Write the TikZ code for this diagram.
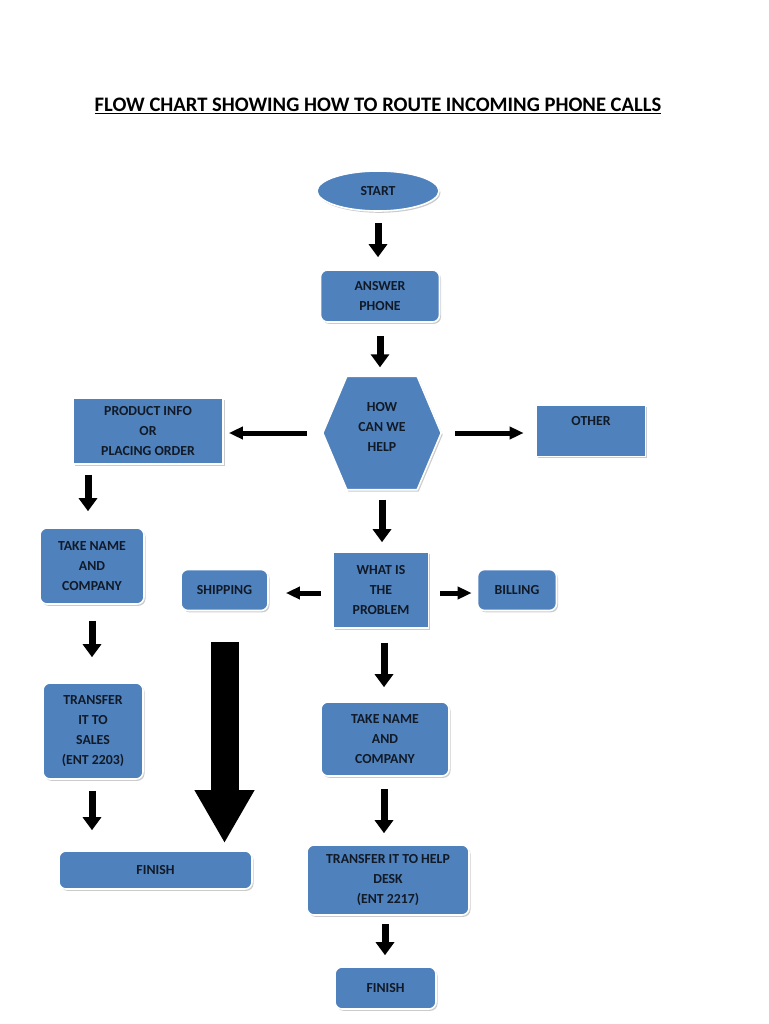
\documentclass[tikz,border=0pt]{standalone}
\usepackage{fontspec}
\setmainfont{Carlito}
\usetikzlibrary{arrows.meta,shadows,backgrounds,shapes.geometric}
\definecolor{boxblue}{HTML}{4F81BD}
\definecolor{txt}{HTML}{111A26}
\begin{document}
\begin{tikzpicture}[x=1pt,y=-1pt,
  shad/.style={drop shadow={shadow xshift=1.5pt,shadow yshift=-1.8pt,fill=black!45,opacity=0.45}},
  box/.style={fill=boxblue, draw=white, line width=1.6pt, shad,
    font=\fontsize{13.8pt}{20pt}\selectfont\bfseries, align=center, inner sep=0pt, text=txt},
  rbox/.style={box, rounded corners=7pt},
  lbl/.style={font=\fontsize{13.8pt}{20pt}\selectfont\bfseries, align=center, inner sep=0pt, text=txt},
  sarr/.style={line width=7pt, -{Triangle[length=13pt,width=18pt]}},
  harr/.style={line width=5pt, -{Triangle[length=14pt,width=12pt]}},
  bigarr/.style={line width=28pt, -{Triangle[length=53pt,width=56pt]}},
]
\useasboundingbox (0,0) rectangle (768,1024);

% title
\node[font=\fontsize{20.6pt}{22pt}\selectfont\bfseries, text=black] (title) at (378,106)
  {\underline{FLOW CHART SHOWING HOW TO ROUTE INCOMING PHONE CALLS}};

% nodes
\node[box, ellipse, minimum width=122pt, minimum height=40pt] (start) at (378,191) {START};
\node[rbox, minimum width=119pt, minimum height=52pt] (answer) at (380,296) {ANSWER\\PHONE};

\node[minimum width=118pt, minimum height=113pt, inner sep=0pt] (hex) at (382,433) {};
\begin{scope}[on background layer]
\path[fill=boxblue, draw=white, line width=1.6pt, shad]
  (hex.west) -- ([xshift=24pt]hex.north west) -- ([xshift=-24pt]hex.north east)
  -- (hex.east) -- ([xshift=-24pt]hex.south east) -- ([xshift=24pt]hex.south west) -- cycle;
\end{scope}
\node[lbl] (hextext) at (382,427) {HOW\\CAN WE\\HELP};

\node[box, minimum width=150pt, minimum height=66pt] (product) at (148,431) {PRODUCT INFO\\OR\\PLACING ORDER};
\node[box, minimum width=109pt, minimum height=51pt] (other) at (591,431) {OTHER\\\phantom{O}};

\node[rbox, minimum width=104pt, minimum height=76pt] (takeL) at (92,566) {TAKE NAME\\AND\\COMPANY};
\node[rbox, minimum width=100pt, minimum height=96pt] (transferL) at (93,731) {TRANSFER\\IT TO\\SALES\\(ENT 2203)};
\node[rbox, minimum width=193pt, minimum height=38pt] (finishL) at (155.5,870) {FINISH};

\node[box, minimum width=95pt, minimum height=76pt] (what) at (381,590) {WHAT IS\\THE\\PROBLEM};
\node[rbox, minimum width=87pt, minimum height=41pt] (shipping) at (224.5,590) {SHIPPING};
\node[rbox, minimum width=79pt, minimum height=41pt] (billing) at (517,590) {BILLING};

\node[rbox, minimum width=128pt, minimum height=74pt] (takeR) at (385,739) {TAKE NAME\\AND\\COMPANY};
\node[rbox, minimum width=162pt, minimum height=70pt] (transferR) at (388,880) {TRANSFER IT TO HELP\\DESK\\(ENT 2217)};
\node[rbox, minimum width=101pt, minimum height=42pt] (finishR) at (385.5,988) {FINISH};

% connectors
\draw[sarr, shorten <=11pt, shorten >=12pt] (start.south) -- (start.south |- answer.north);
\draw[sarr, shorten <=13pt, shorten >=9pt] (answer.south) -- (answer.south |- hex.north);
\draw[harr, shorten <=16pt, shorten >=5pt] (hex.west) -- (hex.west -| product.east);
\draw[harr, shorten <=14pt, shorten >=12pt] (hex.east) -- (hex.east -| other.west);
\draw[sarr, shorten <=10pt, shorten >=16pt] ([xshift=-4pt]takeL.north |- product.south) -- ([xshift=-4pt]takeL.north);
\draw[sarr, shorten <=16pt, shorten >=25pt] (takeL.south) -- (takeL.south |- transferL.north);
\draw[sarr, shorten <=11pt, shorten >=20pt] ([xshift=-1pt]transferL.south) -- ([xshift=-1pt]transferL.south |- finishL.north);
\draw[sarr, shorten <=10pt, shorten >=9pt] (hex.south) -- (hex.south |- what.north);
\draw[harr, shorten <=12pt, shorten >=17pt] ([yshift=-3pt]what.west) -- ([yshift=-3pt]what.west -| shipping.east);
\draw[harr, shorten <=11pt, shorten >=5pt] ([yshift=-3pt]what.east) -- ([yshift=-3pt]what.east -| billing.west);
\draw[sarr, shorten <=14pt, shorten >=14pt] ([xshift=3pt]what.south) -- ([xshift=3pt]what.south |- takeR.north);
\draw[sarr, shorten <=12pt, shorten >=11pt] ([xshift=-1pt]takeR.south) -- ([xshift=-1pt]takeR.south |- transferR.north);
\draw[sarr, shorten <=8pt, shorten >=11pt] ([xshift=-3pt]transferR.south) -- ([xshift=-3pt]transferR.south |- finishR.north);
\draw[bigarr, shorten <=31pt, shorten >=7pt] (shipping.south) -- (shipping.south |- finishL.north);
\end{tikzpicture}
\end{document}
